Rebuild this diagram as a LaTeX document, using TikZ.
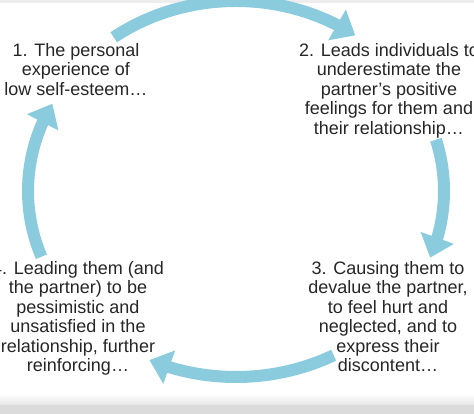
\documentclass[tikz,border=0pt]{standalone}
\usepackage{fontspec}
\setmainfont{Liberation Sans}
\usetikzlibrary{arrows.meta,bending,calc}
\definecolor{arrowblue}{RGB}{138,204,221}
\definecolor{txt}{RGB}{38,38,38}
\begin{document}
\begin{tikzpicture}[x=1pt,y=1pt,
  cyc/.style={line width=12pt, draw=arrowblue, -{Triangle[width=34pt,length=21pt]}},
  lbl/.style={font=\fontsize{18}{19.5}\selectfont, text=txt, align=center, inner sep=0pt, anchor=north}]
\path[use as bounding box] (0,0) rectangle (474,414);
\clip (0,0) rectangle (474,414);
\fill[white] (0,0) rectangle (474,414);
\fill[black!7] (0,411) rectangle (474,414);
\shade[top color=white, bottom color=black!10] (0,9) rectangle (474,20);
\fill[black!14] (0,0) rectangle (474,9);
% labels
\node[lbl] (n1) at (76,371) {1. The personal\\experience of\\low self-esteem…};
\node[lbl] (n2) at (389,371) {2. Leads individuals to\\underestimate the\\partner’s positive\\feelings for them and\\their relationship…};
\node[lbl] (n3) at (388,153) {3. Causing them to\\devalue the partner,\\to feel hurt and\\neglected, and to\\express their\\discontent…};
\node[lbl] (n4) at (78,153) {4. Leading them (and\\the partner) to be\\pessimistic and\\unsatisfied in the\\relationship, further\\reinforcing…};
% cycle centre
\coordinate (c) at (236,223);
\coordinate (s1) at ($(c)+(126:208pt and 190pt)$);
\coordinate (s2) at ($(c)+(16:208pt and 186pt)$);
\coordinate (s3) at ($(c)+(-62:208pt and 186pt)$);
\coordinate (s4) at ($(c)+(200.7:208pt and 186pt)$);
\draw[cyc] (s1) arc[start angle=126, end angle=55, x radius=208pt, y radius=190pt];
\draw[cyc] (s2) arc[start angle=16, end angle=-21, x radius=208pt, y radius=186pt];
\draw[cyc] (s3) arc[start angle=-62, end angle=-114.6, x radius=208pt, y radius=186pt];
\draw[cyc] (s4) arc[start angle=200.7, end angle=152, x radius=208pt, y radius=186pt];
\end{tikzpicture}
\end{document}
